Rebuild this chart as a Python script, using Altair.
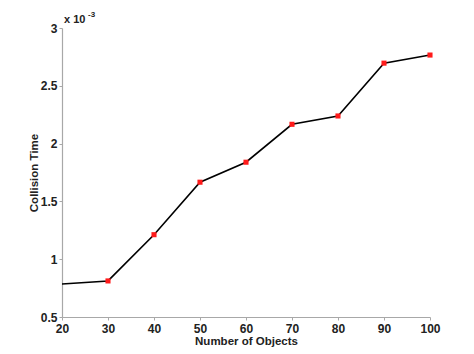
import altair as alt
import pandas as pd

n_objects = [20, 30, 40, 50, 60, 70, 80, 90, 100]
collision_time = [0.786, 0.812, 1.212, 1.666, 1.839, 2.167, 2.239, 2.696, 2.766]  # x 10^-3
show_marker = [False, True, True, True, True, True, True, True, True]

df = pd.DataFrame({"n": n_objects, "t": collision_time, "m": show_marker})

FONT = "Liberation Sans"
AX = dict(labelFont=FONT, labelFontSize=12, labelFontWeight=700, labelColor="#222",
          titleFont=FONT, titleFontSize=11.5, titleFontWeight=700, titleColor="#222",
          labelFlush=False, titlePadding=1, format="~r",
          domainColor="#a8a8a8", tickColor="#a8a8a8", tickSize=3, domainWidth=1.2, grid=False)

x = alt.X("n:Q", scale=alt.Scale(domain=[20, 100], nice=False),
          axis=alt.Axis(values=[20, 30, 40, 50, 60, 70, 80, 90, 100], title="Number of Objects",
                        labelPadding=3, **AX))
y = alt.Y("t:Q", scale=alt.Scale(domain=[0.5, 3], nice=False),
          axis=alt.Axis(values=[0.5, 1, 1.5, 2, 2.5, 3], title="Collision Time",
                        labelPadding=2, **AX))

base = alt.Chart(df)
line = base.mark_line(color="black", strokeWidth=1.6).encode(x=x, y=y)
pts = base.transform_filter("datum.m").mark_point(
    shape="square", filled=True, color="#ff1a1a", size=26, opacity=1
).encode(x="n:Q", y="t:Q")

exp_base = alt.Chart(pd.DataFrame({"a": [0]}))
t1 = exp_base.mark_text(text="x 10", align="left", baseline="alphabetic", fontSize=11,
                        font=FONT, fontWeight=700, color="#222").encode(x=alt.value(2), y=alt.value(-5))
t2 = exp_base.mark_text(text="-3", align="left", baseline="alphabetic", fontSize=8,
                        font=FONT, fontWeight=700, color="#222").encode(x=alt.value(26), y=alt.value(-11))

chart = alt.layer(line, pts, t1, t2).properties(
    width=368, height=289,
    autosize=alt.AutoSizeParams(type="none"),
    padding={"left": 62, "top": 28, "right": 44, "bottom": 37},
    background="white",
).configure_view(stroke=None)

chart.save("out.html", embed_options={"renderer": "svg", "actions": False})
